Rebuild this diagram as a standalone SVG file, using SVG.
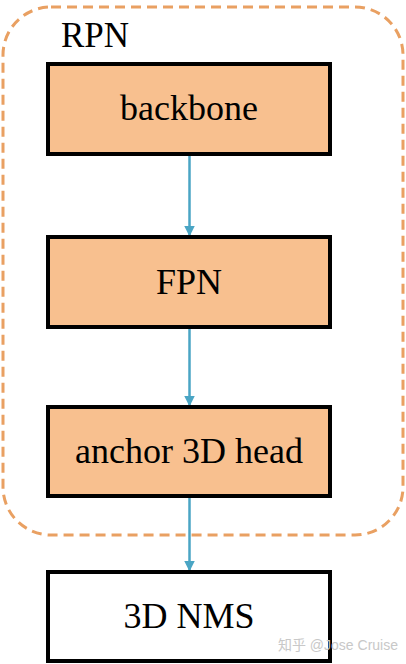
<svg xmlns="http://www.w3.org/2000/svg" width="406" height="664" viewBox="0 0 406 664">
<style>
.box{stroke:#000;stroke-width:4}
.core{fill:#F8C08F}
.plain{fill:#fff}
.lbl{font-family:"Liberation Serif","Times New Roman",serif;font-size:36px;fill:#000;text-anchor:middle}
.edge{stroke:#4AA5C4;stroke-width:2.5;fill:none}
</style>
<defs>
<marker id="arr" markerWidth="11" markerHeight="11" refX="10.5" refY="5.5" orient="auto" markerUnits="userSpaceOnUse">
<path d="M0,0 L11,5.5 L0,11 Z" fill="#4AA5C4"/>
</marker>
</defs>
<rect width="406" height="664" fill="#fff"/>
<g id="rpn-group">
<rect x="3" y="7" width="400" height="528" rx="48" ry="48" fill="none" stroke="#E9A062" stroke-width="3" stroke-dasharray="10,6"/>
<text x="61" y="47" class="lbl" style="text-anchor:start;font-size:35px">RPN</text>
</g>
<g id="edges">
<line class="edge" x1="189.5" y1="156" x2="189.5" y2="236" marker-end="url(#arr)"/>
<line class="edge" x1="189.5" y1="329" x2="189.5" y2="406" marker-end="url(#arr)"/>
<line class="edge" x1="189.5" y1="498" x2="189.5" y2="571" marker-end="url(#arr)"/>
</g>
<g id="backbone">
<rect class="box core" x="48" y="64" width="282" height="90"/>
<text x="189" y="120" class="lbl">backbone</text>
</g>
<g id="fpn">
<rect class="box core" x="48" y="237" width="282" height="90"/>
<text x="189" y="294" class="lbl">FPN</text>
</g>
<g id="anchor-head">
<rect class="box core" x="48" y="407" width="282" height="89"/>
<text x="189" y="463" class="lbl">anchor 3D head</text>
</g>
<g id="nms">
<rect class="box plain" x="48" y="572" width="282" height="89"/>
<text x="189" y="628" class="lbl">3D NMS</text>
</g>
<text x="338" y="650" font-family="'Liberation Sans','Noto Sans CJK SC',sans-serif" font-size="14" fill="#c8c8c8" text-anchor="middle">知乎 @Jose Cruise</text>
</svg>
